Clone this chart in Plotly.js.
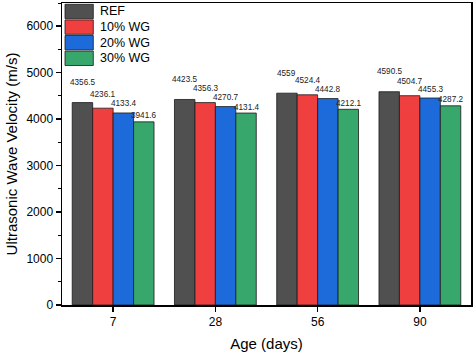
<!DOCTYPE html>
<html>
<head>
<meta charset="utf-8">
<script src="https://cdn.plot.ly/plotly-3.0.1.min.js"></script>
<style>html,body{margin:0;padding:0;background:#fff;}#chart{width:474px;height:358px;}</style>
</head>
<body>
<div id="chart"></div>
<script>
// ---- data ----
const ages = ['7', '28', '56', '90'];
const seriesNames = ['REF', '10% WG', '20% WG', '30% WG'];
const refValues = [4356.5, 4423.5, 4559, 4590.5];
const wg10Values = [4236.1, 4356.3, 4524.4, 4504.7];
const wg20Values = [4133.4, 4270.7, 4442.8, 4455.3];
const wg30Values = [3941.6, 4131.4, 4212.1, 4287.2];
const yTickVals = [0, 1000, 2000, 3000, 4000, 5000, 6000];

// ---- style ----
const FONT = 'Arial, "Liberation Sans", sans-serif';
const colors = ['#505050', '#ef3f3f', '#1d6bdb', '#38a76b'];
const labelLift = [20, 14, 9, 6];
const BARGAP = 0.2;
const M = {l: 62, r: 3, t: 3, b: 53};
const W = 474, H = 358;
const PW = W - M.l - M.r, PH = H - M.t - M.b;
const allSeries = [refValues, wg10Values, wg20Values, wg30Values];
const xIdx = ages.map((_, i) => i);

const traces = allSeries.map((vals, j) => ({
  type: 'bar',
  name: seriesNames[j],
  x: xIdx,
  y: vals,
  marker: {color: colors[j], line: {color: '#1a1a1a', width: 0.8}},
  hoverinfo: 'x+y+name',
  showlegend: false
}));

const barW = (1 - BARGAP) / allSeries.length;
const annotations = [];
allSeries.forEach((vals, j) => {
  vals.forEach((v, i) => {
    annotations.push({
      x: i + (j - (allSeries.length - 1) / 2) * barW,
      y: v,
      xref: 'x', yref: 'y',
      text: String(v),
      showarrow: false,
      yanchor: 'middle',
      xanchor: 'center',
      yshift: labelLift[j],
      font: {family: FONT, size: 8.2, color: '#222'}
    });
  });
});

// custom legend (pixel geometry converted to paper coords)
const px2x = px => (px - M.l) / PW;
const py2y = py => (H - M.b - py) / PH;
const shapes = [];
const legTop = 4.3, legStep = 15.6, legH = 14.4;
seriesNames.forEach((name, j) => {
  const top = legTop + j * legStep;
  shapes.push({
    type: 'rect', xref: 'paper', yref: 'paper',
    x0: px2x(65), x1: px2x(93.3), y0: py2y(top + legH), y1: py2y(top),
    fillcolor: colors[j], line: {color: '#1a1a1a', width: 0.8}
  });
  annotations.push({
    xref: 'paper', yref: 'paper',
    x: px2x(97.5), y: py2y(top + legH / 2),
    xanchor: 'left', yanchor: 'middle',
    text: name, showarrow: false,
    font: {family: FONT, size: 12.5, color: '#000'}
  });
});

const layout = {
  width: W, height: H,
  margin: M,
  paper_bgcolor: '#fff', plot_bgcolor: '#fff',
  barmode: 'group',
  bargap: BARGAP,
  bargroupgap: 0,
  font: {family: FONT, color: '#000'},
  showlegend: false,
  xaxis: {
    range: [-0.5, ages.length - 0.5],
    tickmode: 'array', tickvals: xIdx, ticktext: ages,
    ticks: 'outside', ticklen: 5, tickwidth: 1.5, tickcolor: '#000',
    showline: true, linecolor: '#000', linewidth: 1.5, mirror: true,
    showgrid: false, zeroline: false,
    tickfont: {family: FONT, size: 12, color: '#000'},
    title: {text: 'Age (days)', font: {family: FONT, size: 15, color: '#000'}, standoff: 10}
  },
  yaxis: {
    range: [0, 6500],
    tickmode: 'array', tickvals: yTickVals,
    ticks: 'outside', ticklen: 5, tickwidth: 1.5, tickcolor: '#000',
    minor: {dtick: 500, ticks: 'outside', ticklen: 3, tickwidth: 1, tickcolor: '#000', showgrid: false},
    showline: true, linecolor: '#000', linewidth: 1.5, mirror: true,
    showgrid: false, zeroline: false,
    tickfont: {family: FONT, size: 12, color: '#000'},
    title: {text: 'Ultrasonic Wave Velocity (m/s)', font: {family: FONT, size: 15, color: '#000'}, standoff: 5}
  },
  shapes: shapes,
  annotations: annotations
};

Plotly.newPlot('chart', traces, layout, {displayModeBar: false, staticPlot: true});
</script>
</body>
</html>
